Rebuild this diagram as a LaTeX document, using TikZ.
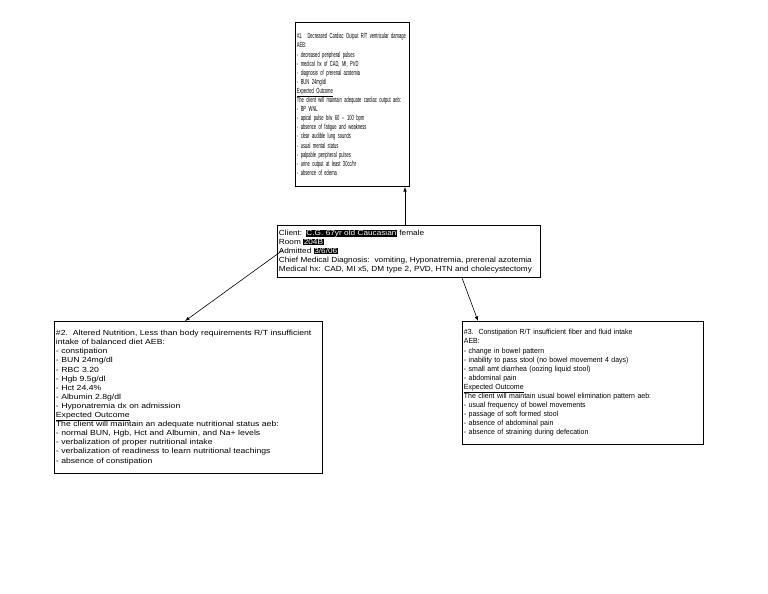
\documentclass[tikz,border=0pt]{standalone}
\usepackage{fontspec}
\setmainfont{Liberation Sans}
\newfontfamily\fa[FakeStretch=0.55]{Liberation Sans}
\newfontfamily\fb[FakeStretch=1.17]{Liberation Sans}
\newfontfamily\fc[FakeStretch=0.94]{Liberation Sans}
\newfontfamily\fd[FakeStretch=1.11]{Liberation Sans}
\usetikzlibrary{calc}
\newcommand{\hl}[1]{{\setlength{\fboxsep}{0.5pt}\colorbox{black}{\textcolor{white}{#1}}}}
\begin{document}
\begin{tikzpicture}[x=1pt,y=-1pt,
  box/.style={draw,line width=0.9pt,anchor=north west,inner sep=1.5pt,align=left,
    font=\fontsize{7.4}{9.1}\selectfont},
  arr/.style={-latex,line width=0.6pt}]
\useasboundingbox (0,0) rectangle (768,594);
\node[box,text width=111pt,minimum height=164pt,font=\fa\fontsize{7.4}{9.1}\selectfont] (n1) at (295,22) {\mbox{\#1.\ \ Decreased Cardiac Output R/T ventricular damage}\\AEB:\\- decreased peripheral pulses\\- medical hx of CAD, MI, PVD\\- diagnosis of prerenal azotemia\\- BUN 24mg/dl\\\underline{Expected Outcome}\\The client will maintain adequate cardiac output aeb:\\- BP WNL\\- apical pulse b/w 60 -- 100 bpm\\- absence of fatigue and weakness\\- clear audible lung sounds\\- usual mental status\\- palpable peripheral pulses\\- urine output at least 30cc/hr\\- absence of edema};
\node[box,text width=260pt,minimum height=52pt,font=\fd\fontsize{7.4}{9.1}\selectfont] (c) at (277,225) {Client: \hl{C.G. 67yr old Caucasian} female\\Room \hl{204B}\\Admitted \hl{3/6/06}\\Chief Medical Diagnosis:\ \ vomiting, Hyponatremia, prerenal azotemia\\Medical hx: CAD, MI x5, DM type 2, PVD, HTN and cholecystectomy};
\node[box,text width=265pt,minimum height=152pt,font=\fb\fontsize{7.4}{9.1}\selectfont] (n2) at (54,321) {\#2.\ \ Altered Nutrition, Less than body requirements R/T insufficient\\intake of balanced diet AEB:\\- constipation\\- BUN 24mg/dl\\- RBC 3.20\\- Hgb 9.5g/dl\\- Hct 24.4\%\\- Albumin 2.8g/dl\\- Hyponatremia dx on admission\\\underline{Expected Outcome}\\The client will maintain an adequate nutritional status aeb:\\- normal BUN, Hgb, Hct and Albumin, and Na+ levels\\- verbalization of proper nutritional intake\\- verbalization of readiness to learn nutritional teachings\\- absence of constipation};
\node[box,text width=238pt,minimum height=123pt,font=\fc\fontsize{7.4}{9.1}\selectfont] (n3) at (462,321) {\#3.\ \ Constipation R/T insufficient fiber and fluid intake\\AEB:\\- change in bowel pattern\\- inability to pass stool (no bowel movement 4 days)\\- small amt diarrhea (oozing liquid stool)\\- abdominal pain\\\underline{Expected Outcome}\\The client will maintain usual bowel elimination pattern aeb:\\- usual frequency of bowel movements\\- passage of soft formed stool\\- absence of abdominal pain\\- absence of straining during defecation};
\draw[arr] ($(c.north west)+(128,0)$) -- ($(n1.south west)+(110,0)$);
\draw[arr] ($(c.north west)+(6,25)$) -- ($(n2.north west)+(131,0)$);
\draw[arr] ($(c.south west)+(185,0)$) -- ($(n3.north west)+(16,0)$);
\end{tikzpicture}
\end{document}
